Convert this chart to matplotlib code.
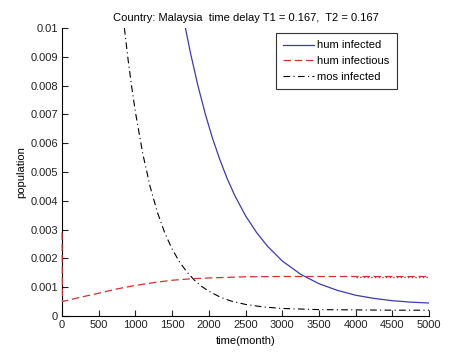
import matplotlib.pyplot as plt
import numpy as np

plt.rcParams['font.family'] = ['Liberation Sans', 'DejaVu Sans']

# values
t_hum_inf = [1681, 1750, 1850, 1950, 2050, 2150, 2250, 2350, 2500, 2650, 2800,
             3000, 3250, 3500, 3750, 4000, 4250, 4500, 4750, 5000]
hum_inf = [0.0100, 0.00913, 0.00801, 0.00703, 0.00617, 0.00543, 0.00477, 0.00420,
           0.00348, 0.00290, 0.00242, 0.00191, 0.00145, 0.00112, 0.00089, 0.00072,
           0.00061, 0.00053, 0.00048, 0.00045]

t_hum_infs = [0, 5, 250, 500, 750, 1000, 1250, 1500, 1750, 2000, 2250, 2500, 3000,
              3500, 4000, 4500, 5000]
hum_infs = [0.0029, 0.0005, 0.00065, 0.00079, 0.00094, 0.00106, 0.00116, 0.00124,
            0.00129, 0.00132, 0.00134, 0.00136, 0.00137, 0.00137, 0.00137, 0.00137,
            0.00137]

t_mos_inf = [849, 900, 950, 1000, 1100, 1200, 1300, 1400, 1500, 1600, 1700, 1800,
             1900, 2000, 2150, 2300, 2500, 2750, 3000, 3500, 4000, 4500, 5000]
mos_inf = [0.0100, 0.00889, 0.00793, 0.00707, 0.00563, 0.00449, 0.00359, 0.00288,
           0.00232, 0.00188, 0.00153, 0.00125, 0.00103, 0.00086, 0.00066, 0.00052,
           0.00040, 0.00031, 0.00026, 0.00022, 0.00021, 0.00020, 0.00020]

fig = plt.figure(figsize=(4.74, 3.55), dpi=100)
ax = fig.add_axes([0.131, 0.110, 0.774, 0.811])

ax.plot(t_hum_inf, hum_inf, '-', color='#3b3bab', lw=0.9, label='hum infected')
ax.plot(t_hum_infs, hum_infs, '--', color='#cc3333', lw=0.9, dashes=(6, 3),
        label='hum infectious', zorder=3, clip_on=False)
# denser part at the end of the red curve
ax.plot(t_hum_infs[-3:], hum_infs[-3:], ':', color='#cc3333', lw=1.0)
ax.plot(t_mos_inf, mos_inf, '-.', color='black', lw=0.8, dashes=(6, 3, 1, 3),
        label='mos infected')

ax.set_xlim(0, 5000)
ax.set_ylim(0, 0.01)
ax.set_xticks(np.arange(0, 5001, 500))
ax.set_yticks(np.arange(0, 0.0101, 0.001))
ax.set_yticklabels(['0', '0.001', '0.002', '0.003', '0.004', '0.005', '0.006',
                    '0.007', '0.008', '0.009', '0.01'])
ax.spines['top'].set_visible(False)
ax.spines['right'].set_visible(False)
ax.tick_params(direction='in', length=4, width=0.8, labelsize=8, pad=3,
               colors='#222222')
for s in ax.spines.values():
    s.set_linewidth(0.8)

ax.set_title('Country: Malaysia  time delay T1 = 0.167,  T2 = 0.167',
             fontsize=8, pad=5)
ax.set_xlabel('time(month)', fontsize=8, labelpad=4)
ax.set_ylabel('population', fontsize=8, labelpad=3)

leg = ax.legend(loc='upper right', bbox_to_anchor=(0.912, 0.982), fontsize=8,
                frameon=True, fancybox=False, edgecolor='black',
                handlelength=2.8, handletextpad=0.25, borderpad=0.65,
                labelspacing=0.5, borderaxespad=0)
leg.get_frame().set_linewidth(0.8)

fig.savefig('out.png', dpi=100)
